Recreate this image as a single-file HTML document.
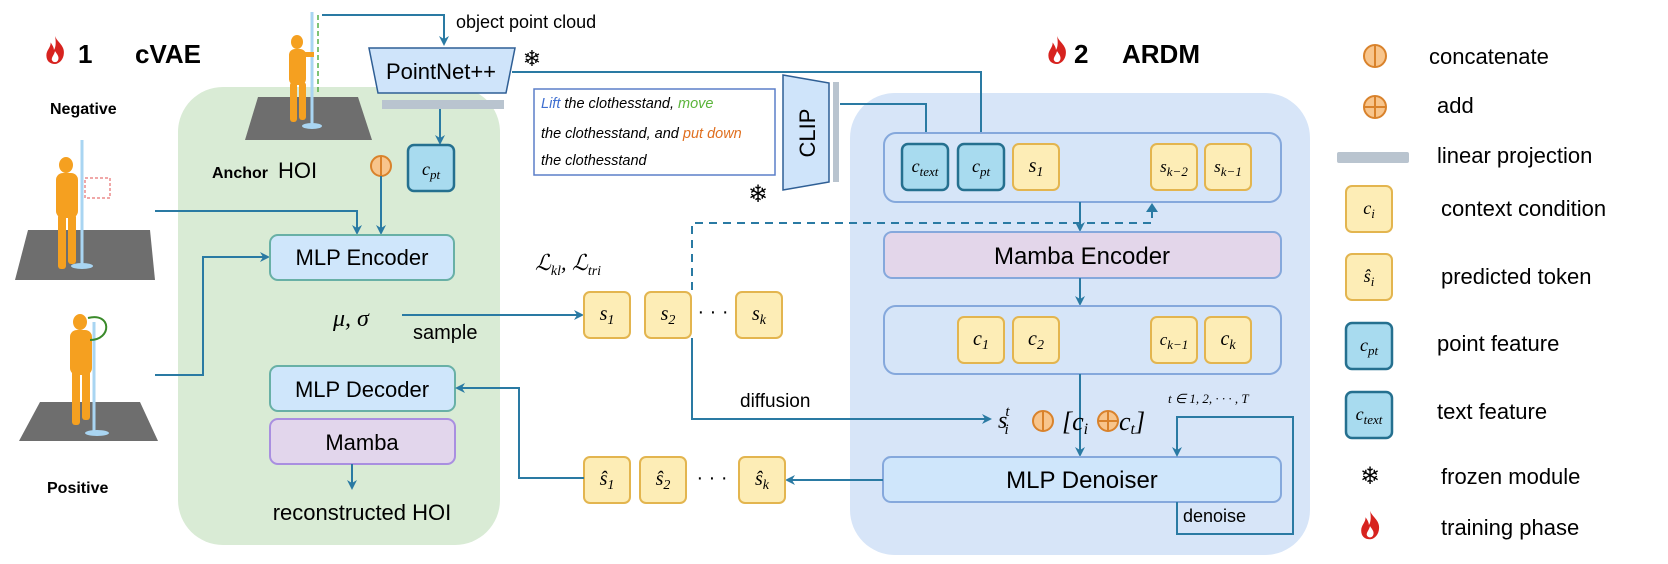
<!DOCTYPE html>
<html><head><meta charset="utf-8"><style>
body{margin:0;background:#fff}
svg{display:block}
.s{font-family:"Liberation Sans",sans-serif}
.m{font-family:"Liberation Serif",serif;font-style:italic}
</style></head><body>
<svg width="1668" height="564" viewBox="0 0 1668 564" xmlns="http://www.w3.org/2000/svg">
<defs>
<marker id="a" markerWidth="10" markerHeight="10" refX="8" refY="5" orient="auto" markerUnits="userSpaceOnUse"><path d="M0,0 L10,5 L0,10 L3,5 z" fill="#2a7aa3"/></marker>
<symbol id="flame" viewBox="0 0 20 26"><path d="M10,0 C12,6 20,9 18,18 C17,23 13,26 10,26 C5,26 2,23 2,18 C2,13 6,11 6,6 C8,9 9,11 9,13 C11,10 11,5 10,0z" fill="#d7231f"/><path d="M10,14 C12,17 14,19 13,22 C12,25 8,25 7,22 C7,19 9,18 10,14z" fill="#fff"/></symbol>
<g id="yt"><rect width="46" height="46" rx="6" fill="#fdedb6" stroke="#e3b54f" stroke-width="2"/></g>
<g id="bt"><rect width="46" height="46" rx="6" fill="#a8dbef" stroke="#25708f" stroke-width="2.5"/></g>
</defs>

<rect x="178" y="87" width="322" height="458" rx="45" fill="#d9ebd5"/>
<rect x="850" y="93" width="460" height="462" rx="45" fill="#d7e5f8"/>

<use href="#flame" x="44" y="36" width="22" height="28"/>
<text x="78" y="63" class="s" font-size="26" font-weight="bold">1</text>
<text x="135" y="63" class="s" font-size="26" font-weight="bold">cVAE</text>
<use href="#flame" x="1046" y="36" width="22" height="28"/>
<text x="1074" y="63" class="s" font-size="26" font-weight="bold">2</text>
<text x="1122" y="63" class="s" font-size="26" font-weight="bold">ARDM</text>
<text x="50" y="114" class="s" font-size="16" font-weight="bold">Negative</text>
<text x="47" y="493" class="s" font-size="16" font-weight="bold">Positive</text>

<g>
<polygon points="258,97 358,97 372,140 245,140" fill="#6e6e6e"/>
<line x1="312" y1="12" x2="312" y2="125" stroke="#a9d5f2" stroke-width="3"/>
<line x1="318" y1="15" x2="318" y2="95" stroke="#55b04a" stroke-width="1.5" stroke-dasharray="5,3"/>
<ellipse cx="312" cy="126" rx="10" ry="3" fill="#a9d5f2"/>
<ellipse cx="297" cy="42" rx="6" ry="7" fill="#f5a020"/>
<rect x="289" y="49" width="17" height="36" rx="6" fill="#f5a020"/>
<rect x="290" y="82" width="7" height="40" rx="3" fill="#f5a020"/>
<rect x="299" y="82" width="7" height="38" rx="3" fill="#f5a020"/>
<rect x="304" y="52" width="10" height="5" fill="#f5a020"/>
</g>
<g>
<polygon points="28,230 150,230 155,280 15,280" fill="#6e6e6e"/>
<line x1="82" y1="140" x2="82" y2="265" stroke="#a9d5f2" stroke-width="3"/>
<ellipse cx="82" cy="266" rx="11" ry="3" fill="#a9d5f2"/>
<ellipse cx="66" cy="165" rx="7" ry="8" fill="#f5a020"/>
<rect x="56" y="173" width="22" height="45" rx="7" fill="#f5a020"/>
<rect x="58" y="214" width="8" height="55" rx="3" fill="#f5a020"/>
<rect x="68" y="214" width="8" height="50" rx="3" fill="#f5a020"/>
<rect x="85" y="178" width="25" height="20" fill="none" stroke="#e05050" stroke-width="1" stroke-dasharray="3,2"/>
</g>
<g>
<polygon points="40,402 140,402 158,441 19,441" fill="#6e6e6e"/>
<line x1="94" y1="322" x2="94" y2="432" stroke="#a9d5f2" stroke-width="3"/>
<ellipse cx="97" cy="433" rx="12" ry="3" fill="#a9d5f2"/>
<ellipse cx="80" cy="322" rx="7" ry="8" fill="#f5a020"/>
<rect x="70" y="330" width="22" height="45" rx="7" fill="#f5a020"/>
<rect x="72" y="370" width="8" height="55" rx="3" fill="#f5a020"/>
<rect x="82" y="370" width="8" height="50" rx="3" fill="#f5a020"/>
<path d="M88,318 C112,312 112,340 90,340" fill="none" stroke="#3a8a2a" stroke-width="2"/>
</g>

<text x="456" y="28" class="s" font-size="18">object point cloud</text>
<polyline points="322,15 444,15 444,44" fill="none" stroke="#2a7aa3" stroke-width="2" marker-end="url(#a)"/>
<polygon points="369,48 515,48 506,93 378,93" fill="#cfe4fa" stroke="#2f5f95" stroke-width="1.5"/>
<text x="441" y="79" class="s" font-size="22" text-anchor="middle">PointNet++</text>
<rect x="382" y="100" width="122" height="9" fill="#b9c4cf"/>
<text x="532" y="66" class="s" font-size="22" text-anchor="middle">❄</text>
<line x1="440" y1="109" x2="440" y2="143" stroke="#2a7aa3" stroke-width="2" marker-end="url(#a)"/>
<use href="#bt" x="408" y="145"/>
<text x="431" y="175" class="m" font-size="18" text-anchor="middle">c<tspan font-size="13" dy="4">pt</tspan></text>
<polyline points="512,72 981,72 981,141" fill="none" stroke="#2a7aa3" stroke-width="2" marker-end="url(#a)"/>

<text x="212" y="178" class="s" font-size="16" font-weight="bold">Anchor</text>
<text x="278" y="178" class="s" font-size="22">HOI</text>
<circle cx="381" cy="166" r="10" fill="#f8c58c" stroke="#d9822b" stroke-width="2"/>
<line x1="381" y1="156" x2="381" y2="176" stroke="#d9822b" stroke-width="2"/>
<line x1="381" y1="176" x2="381" y2="233" stroke="#2a7aa3" stroke-width="2" marker-end="url(#a)"/>
<polyline points="155,211 357,211 357,233" fill="none" stroke="#2a7aa3" stroke-width="2" marker-end="url(#a)"/>
<polyline points="155,375 203,375 203,257 268,257" fill="none" stroke="#2a7aa3" stroke-width="2" marker-end="url(#a)"/>

<rect x="270" y="235" width="184" height="45" rx="8" fill="#cfe6fb" stroke="#68b0a6" stroke-width="2"/>
<text x="362" y="265" class="s" font-size="22" text-anchor="middle">MLP Encoder</text>
<text x="333" y="326" class="m" font-size="24">μ, σ</text>
<text x="413" y="339" class="s" font-size="20">sample</text>
<line x1="402" y1="315" x2="582" y2="315" stroke="#2a7aa3" stroke-width="2" marker-end="url(#a)"/>

<rect x="270" y="366" width="185" height="45" rx="8" fill="#cfe6fb" stroke="#68b0a6" stroke-width="2"/>
<text x="362" y="397" class="s" font-size="22" text-anchor="middle">MLP Decoder</text>
<rect x="270" y="419" width="185" height="45" rx="8" fill="#e2d6ec" stroke="#a98fe0" stroke-width="2"/>
<text x="362" y="450" class="s" font-size="22" text-anchor="middle">Mamba</text>
<line x1="352" y1="464" x2="352" y2="488" stroke="#2a7aa3" stroke-width="2" marker-end="url(#a)"/>
<text x="362" y="520" class="s" font-size="22" text-anchor="middle">reconstructed HOI</text>

<rect x="534" y="89" width="241" height="86" fill="#fff" stroke="#5b7fc8" stroke-width="1.5"/>
<text x="541" y="108" class="s" font-size="14.5" font-style="italic"><tspan fill="#3f6fd0">Lift</tspan> the clothesstand, <tspan fill="#5bb43a">move</tspan></text>
<text x="541" y="138" class="s" font-size="14.5" font-style="italic">the clothesstand, and <tspan fill="#e07020">put down</tspan></text>
<text x="541" y="165" class="s" font-size="14.5" font-style="italic">the clothesstand</text>
<text x="758" y="202" class="s" font-size="24" text-anchor="middle">❄</text>
<polygon points="783,75 829,83 829,182 783,190" fill="#cfe4fa" stroke="#2f5f95" stroke-width="1.5"/>
<text transform="translate(815,133) rotate(-90)" class="s" font-size="22" text-anchor="middle">CLIP</text>
<rect x="833" y="82" width="6" height="100" fill="#b9c4cf"/>
<polyline points="840,104 926,104 926,141" fill="none" stroke="#2a7aa3" stroke-width="2" marker-end="url(#a)"/>

<text x="535" y="270" class="m" font-size="22">ℒ<tspan font-size="14" dy="5">kl</tspan><tspan dy="-5">, ℒ</tspan><tspan font-size="14" dy="5">tri</tspan></text>

<rect x="884" y="133" width="397" height="69" rx="12" fill="#d6e5f8" stroke="#85a8dc" stroke-width="2"/>
<use href="#bt" x="902" y="144"/><text x="925" y="172" class="m" font-size="18" text-anchor="middle">c<tspan font-size="13" dy="4">text</tspan></text>
<use href="#bt" x="958" y="144"/><text x="981" y="172" class="m" font-size="18" text-anchor="middle">c<tspan font-size="13" dy="4">pt</tspan></text>
<use href="#yt" x="1013" y="144"/><text x="1036" y="172" class="m" font-size="20" text-anchor="middle">s<tspan font-size="14" dy="4">1</tspan></text>
<use href="#yt" x="1151" y="144"/><text x="1174" y="172" class="m" font-size="17" text-anchor="middle">s<tspan font-size="13" dy="4">k−2</tspan></text>
<use href="#yt" x="1205" y="144"/><text x="1228" y="172" class="m" font-size="17" text-anchor="middle">s<tspan font-size="13" dy="4">k−1</tspan></text>

<line x1="1080" y1="202" x2="1080" y2="230" stroke="#2a7aa3" stroke-width="2" marker-end="url(#a)"/>
<rect x="884" y="232" width="397" height="46" rx="8" fill="#e3d6ea" stroke="#85a8dc" stroke-width="2"/>
<text x="1082" y="264" class="s" font-size="24" text-anchor="middle">Mamba Encoder</text>
<line x1="1080" y1="278" x2="1080" y2="304" stroke="#2a7aa3" stroke-width="2" marker-end="url(#a)"/>

<rect x="884" y="306" width="397" height="68" rx="12" fill="#d6e5f8" stroke="#85a8dc" stroke-width="2"/>
<use href="#yt" x="958" y="317"/><text x="981" y="345" class="m" font-size="20" text-anchor="middle">c<tspan font-size="14" dy="4">1</tspan></text>
<use href="#yt" x="1013" y="317"/><text x="1036" y="345" class="m" font-size="20" text-anchor="middle">c<tspan font-size="14" dy="4">2</tspan></text>
<use href="#yt" x="1151" y="317"/><text x="1174" y="345" class="m" font-size="17" text-anchor="middle">c<tspan font-size="13" dy="4">k−1</tspan></text>
<use href="#yt" x="1205" y="317"/><text x="1228" y="345" class="m" font-size="20" text-anchor="middle">c<tspan font-size="14" dy="4">k</tspan></text>
<line x1="1080" y1="374" x2="1080" y2="455" stroke="#2a7aa3" stroke-width="2" marker-end="url(#a)"/>

<polyline points="692,290 692,223 1152,223 1152,204" fill="none" stroke="#2a7aa3" stroke-width="2" stroke-dasharray="8,6"/>
<path d="M1146,212 L1152,203 L1158,212 z" fill="#2a7aa3"/>

<use href="#yt" x="584" y="292"/><text x="607" y="320" class="m" font-size="20" text-anchor="middle">s<tspan font-size="14" dy="4">1</tspan></text>
<use href="#yt" x="645" y="292"/><text x="668" y="320" class="m" font-size="20" text-anchor="middle">s<tspan font-size="14" dy="4">2</tspan></text>
<text x="713" y="318" class="s" font-size="20" text-anchor="middle">· · ·</text>
<use href="#yt" x="736" y="292"/><text x="759" y="320" class="m" font-size="20" text-anchor="middle">s<tspan font-size="14" dy="4">k</tspan></text>

<polyline points="692,338 692,419 990,419" fill="none" stroke="#2a7aa3" stroke-width="2" marker-end="url(#a)"/>
<text x="740" y="407" class="s" font-size="19">diffusion</text>

<text x="998" y="428" class="m" font-size="24">s<tspan font-size="15" dx="-2" dy="-12">t</tspan><tspan font-size="15" dx="-5" dy="18">i</tspan></text>
<circle cx="1043" cy="421" r="10" fill="#f8c58c" stroke="#d9822b" stroke-width="2"/>
<line x1="1043" y1="411" x2="1043" y2="431" stroke="#d9822b" stroke-width="2"/>
<text x="1062" y="430" class="m" font-size="26">[c<tspan font-size="16" dy="4">i</tspan></text>
<circle cx="1108" cy="421" r="10" fill="#f8c58c" stroke="#d9822b" stroke-width="2"/>
<line x1="1108" y1="411" x2="1108" y2="431" stroke="#d9822b" stroke-width="2"/>
<line x1="1098" y1="421" x2="1118" y2="421" stroke="#d9822b" stroke-width="2"/>
<text x="1119" y="430" class="m" font-size="26">c<tspan font-size="16" dy="4">t</tspan><tspan dy="-4">]</tspan></text>
<text x="1168" y="403" class="m" font-size="13">t ∈ 1, 2, · · · , T</text>

<rect x="883" y="457" width="398" height="45" rx="8" fill="#cfe6fb" stroke="#85a8dc" stroke-width="2"/>
<text x="1082" y="488" class="s" font-size="24" text-anchor="middle">MLP Denoiser</text>
<polyline points="1177,502 1177,534 1293,534 1293,417 1177,417 1177,455" fill="none" stroke="#2a7aa3" stroke-width="2" marker-end="url(#a)"/>
<text x="1183" y="522" class="s" font-size="18">denoise</text>

<line x1="883" y1="480" x2="787" y2="480" stroke="#2a7aa3" stroke-width="2" marker-end="url(#a)"/>
<use href="#yt" x="584" y="457"/><text x="607" y="485" class="m" font-size="20" text-anchor="middle">ŝ<tspan font-size="14" dy="4">1</tspan></text>
<use href="#yt" x="640" y="457"/><text x="663" y="485" class="m" font-size="20" text-anchor="middle">ŝ<tspan font-size="14" dy="4">2</tspan></text>
<text x="712" y="484" class="s" font-size="20" text-anchor="middle">· · ·</text>
<use href="#yt" x="739" y="457"/><text x="762" y="485" class="m" font-size="20" text-anchor="middle">ŝ<tspan font-size="14" dy="4">k</tspan></text>
<polyline points="584,478 519,478 519,388 457,388" fill="none" stroke="#2a7aa3" stroke-width="2" marker-end="url(#a)"/>

<!-- legend -->
<circle cx="1375" cy="56" r="11" fill="#f8c58c" stroke="#d9822b" stroke-width="2"/>
<line x1="1375" y1="45" x2="1375" y2="67" stroke="#d9822b" stroke-width="2"/>
<text x="1429" y="64" class="s" font-size="22">concatenate</text>
<circle cx="1375" cy="107" r="11" fill="#f8c58c" stroke="#d9822b" stroke-width="2"/>
<line x1="1375" y1="96" x2="1375" y2="118" stroke="#d9822b" stroke-width="2"/>
<line x1="1364" y1="107" x2="1386" y2="107" stroke="#d9822b" stroke-width="2"/>
<text x="1437" y="113" class="s" font-size="22">add</text>
<rect x="1337" y="152" width="72" height="11" rx="2" fill="#b9c4cf"/>
<text x="1437" y="163" class="s" font-size="22">linear projection</text>
<use href="#yt" x="1346" y="186"/><text x="1369" y="214" class="m" font-size="18" text-anchor="middle">c<tspan font-size="13" dy="4">i</tspan></text>
<text x="1441" y="216" class="s" font-size="22">context condition</text>
<use href="#yt" x="1346" y="254"/><text x="1369" y="282" class="m" font-size="18" text-anchor="middle">ŝ<tspan font-size="13" dy="4">i</tspan></text>
<text x="1441" y="284" class="s" font-size="22">predicted token</text>
<use href="#bt" x="1346" y="323"/><text x="1369" y="351" class="m" font-size="18" text-anchor="middle">c<tspan font-size="13" dy="4">pt</tspan></text>
<text x="1437" y="351" class="s" font-size="22">point feature</text>
<use href="#bt" x="1346" y="392"/><text x="1369" y="420" class="m" font-size="18" text-anchor="middle">c<tspan font-size="13" dy="4">text</tspan></text>
<text x="1437" y="419" class="s" font-size="22">text feature</text>
<text x="1370" y="484" class="s" font-size="24" text-anchor="middle">❄</text>
<text x="1441" y="484" class="s" font-size="22">frozen module</text>
<use href="#flame" x="1359" y="510" width="22" height="30"/>
<text x="1441" y="535" class="s" font-size="22">training phase</text>
</svg>
</body></html>
